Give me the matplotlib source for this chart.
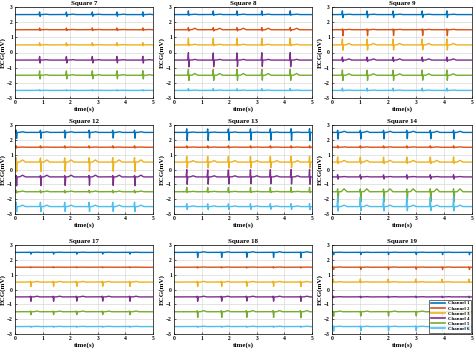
import numpy as np
import matplotlib
matplotlib.use("Agg")
import matplotlib.pyplot as plt

# ---- data ----
titles = ["Square 7", "Square 8", "Square 9",
          "Square 12", "Square 13", "Square 14",
          "Square 17", "Square 18", "Square 19"]
channel_names = ["Channel 1", "Channel 2", "Channel 3", "Channel 4", "Channel 5", "Channel 6"]
channel_colors = ["#0072BD", "#D95319", "#EDB120", "#7E2F8E", "#77AC30", "#4DBEEE"]
baselines = [2.5, 1.5, 0.5, -0.5, -1.5, -2.5]

beats_7 = [0.90, 1.87, 2.81, 3.70, 4.64]
beats_8 = [0.53, 1.43, 2.29, 3.19, 4.22]
beats_9 = [0.38, 1.26, 2.19, 3.23, 4.11]
beats_12 = [0.05, 0.93, 1.81, 2.69, 3.55, 4.34]
beats_13 = [0.47, 1.23, 1.98, 2.78, 3.50, 4.25, 4.92]
beats_14 = [0.21, 1.02, 1.85, 2.68, 3.52, 4.35]
beats_17 = [0.57, 1.39, 2.23, 3.17, 4.16]
beats_18 = [0.85, 1.72, 2.63, 3.60, 4.59]
beats_19 = [0.05, 1.02, 2.01, 3.00, 3.94, 4.90]

# per channel: (up deflection, down deflection, T-wave) in mV
amps_7 = [(0.18, -0.12, 0.03), (0.12, -0.05, 0.02), (0.15, -0.05, 0.02),
          (0.25, -0.20, 0.03), (0.30, -0.25, 0.04), (0.05, -0.03, 0.01)]
amps_8 = [(0.25, -0.05, 0.03), (0.15, -0.08, 0.10), (0.45, -0.05, 0.05),
          (0.50, -0.45, 0.05), (0.40, -0.35, 0.12), (0.12, -0.03, 0.03)]
amps_9 = [(0.25, -0.20, 0.03), (0.05, -0.40, 0.03), (0.40, -0.35, 0.10),
          (0.20, -0.10, 0.08), (0.35, -0.35, 0.10), (0.15, -0.05, 0.03)]
amps_12 = [(0.15, -0.40, 0.05), (0.10, -0.05, 0.02), (0.30, -0.65, 0.15),
           (0.10, -0.60, 0.12), (0.10, -0.08, 0.05), (0.30, -0.35, 0.10)]
amps_13 = [(0.25, -0.55, 0.03), (0.10, -0.05, 0.02), (0.40, -0.40, 0.10),
           (0.50, -0.50, 0.08), (0.30, -0.05, 0.03), (0.20, -0.20, 0.05)]
amps_14 = [(0.15, -0.45, 0.08), (0.10, -0.05, 0.03), (0.35, -0.10, 0.12),
           (0.15, -0.15, 0.03), (0.20, -0.70, 0.20), (0.65, -0.30, 0.10)]
amps_17 = [(0.02, -0.12, 0.02), (0.03, -0.03, 0.01), (0.05, -0.30, 0.05),
           (0.05, -0.30, 0.05), (0.05, -0.20, 0.05), (0.03, -0.05, 0.02)]
amps_18 = [(0.03, -0.35, 0.05), (0.03, -0.05, 0.02), (0.05, -0.30, 0.05),
           (0.05, -0.30, 0.05), (0.08, -0.40, 0.08), (0.03, -0.05, 0.03)]
amps_19 = [(0.02, -0.15, 0.02), (0.03, -0.15, 0.02), (0.20, -0.03, 0.03),
           (0.05, -0.05, 0.02), (0.03, -0.30, 0.05), (0.05, -0.30, 0.03)]

all_beats = [beats_7, beats_8, beats_9, beats_12, beats_13, beats_14, beats_17, beats_18, beats_19]
all_amps = [amps_7, amps_8, amps_9, amps_12, amps_13, amps_14, amps_17, amps_18, amps_19]

x_ticks = [0, 1, 2, 3, 4, 5]
y_ticks = [-3, -2, -1, 0, 1, 2, 3]

# ---- layout ----
plt.rcParams['font.family'] = ['Liberation Serif', 'DejaVu Serif']
plt.rcParams['font.weight'] = 'bold'
fig = plt.figure(figsize=(4.74, 3.51), dpi=100)

col_left = [15 / 474, 174 / 474, 332 / 474]
col_w = [138 / 474, 138 / 474, 140 / 474]
row_top = [7, 125, 245]
row_bot = [98, 214, 334]


def trace(beats, amp, base):
    up, down, tw = amp
    kt = [0.0]
    kv = [0.0]
    for b in beats:
        pts = [(b - 0.03, 0.0), (b - 0.008, up), (b + 0.008, down), (b + 0.025, 0.0),
               (b + 0.12, 0.0), (b + 0.22, tw), (b + 0.32, 0.0)]
        for t, v in pts:
            if 0 <= t <= 5 and t > kt[-1]:
                kt.append(t)
                kv.append(v)
    kt.append(5.0)
    kv.append(0.0)
    t = np.linspace(0, 5, 2500)
    return t, base + np.interp(t, kt, kv)


for i in range(9):
    r, c = divmod(i, 3)
    ax = fig.add_axes([col_left[c], 1 - row_bot[r] / 351, col_w[c], (row_bot[r] - row_top[r]) / 351])
    for ch in range(6):
        t, y = trace(all_beats[i], all_amps[i][ch], baselines[ch])
        ax.plot(t, y, color=channel_colors[ch], lw=1.0, label=channel_names[ch])
    ax.set_xlim(0, 5)
    ax.set_ylim(-3, 3)
    ax.set_xticks(x_ticks)
    ax.set_yticks(y_ticks)
    ax.grid(True, color='#d0d0d0', lw=0.4)
    ax.tick_params(direction='in', labelsize=4, length=1.5, width=0.4, pad=1.5)
    for s in ax.spines.values():
        s.set_linewidth(0.5)
    ax.set_title(titles[i], fontsize=5, fontweight='bold', pad=1.5)
    ax.set_xlabel("time(s)", fontsize=5, fontweight='bold', labelpad=1)
    ax.set_ylabel("ECG(mV)", fontsize=5, fontweight='bold', labelpad=0.5)
    if i == 8:
        leg = ax.legend(loc='lower right', fontsize=3.5, handlelength=3, frameon=True,
                        fancybox=False, edgecolor='black', borderpad=0.3, labelspacing=0.15,
                        handletextpad=0.5, borderaxespad=0.3)
        leg.get_frame().set_linewidth(0.5)
        for line in leg.get_lines():
            line.set_linewidth(1.2)

fig.savefig("out.png", dpi=100)
